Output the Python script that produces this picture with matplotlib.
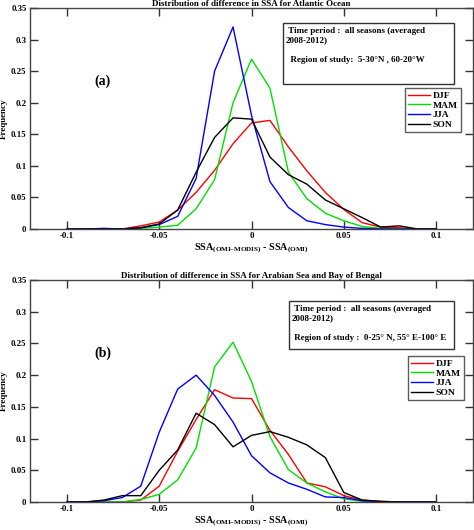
import matplotlib
matplotlib.use("Agg")
import matplotlib.pyplot as plt

plt.rcParams['font.family'] = ['Liberation Serif', 'DejaVu Serif']
plt.rcParams['font.weight'] = 'bold'
plt.rcParams['mathtext.fontset'] = 'custom'
plt.rcParams['mathtext.rm'] = 'Liberation Serif:bold'
plt.rcParams['mathtext.bf'] = 'Liberation Serif:bold'
plt.rcParams['mathtext.it'] = 'Liberation Serif:bold'

x = [-0.10, -0.09, -0.08, -0.07, -0.06, -0.05, -0.04, -0.03, -0.02, -0.01, 0.00,
     0.01, 0.02, 0.03, 0.04, 0.05, 0.06, 0.07, 0.08, 0.09, 0.10]

seasons = ['DJF', 'MAM', 'JJA', 'SON']
colors = ['#ff0000', '#00e000', '#0000ff', '#000000']

# Panel (a) Atlantic Ocean
a_djf = [0, 0, 0, 0, 0.005, 0.011, 0.030, 0.058, 0.093, 0.135, 0.168,
         0.172, 0.130, 0.092, 0.058, 0.031, 0.010, 0.003, 0.002, 0, 0]
a_mam = [0, 0, 0, 0, 0.001, 0.003, 0.006, 0.032, 0.078, 0.200, 0.269,
         0.223, 0.090, 0.048, 0.025, 0.013, 0.004, 0.001, 0, 0, 0]
a_jja = [0, 0, 0.001, 0, 0.002, 0.007, 0.020, 0.080, 0.250, 0.320, 0.180,
         0.075, 0.034, 0.013, 0.007, 0.003, 0.001, 0, 0, 0, 0]
a_son = [0, 0, 0, 0, 0.002, 0.008, 0.030, 0.090, 0.145, 0.176, 0.174,
         0.114, 0.086, 0.071, 0.046, 0.032, 0.018, 0.003, 0.005, 0, 0]

# Panel (b) Arabian Sea and Bay of Bengal
b_djf = [0, 0, 0, 0, 0.003, 0.025, 0.080, 0.130, 0.177, 0.164, 0.163,
         0.113, 0.075, 0.030, 0.024, 0.010, 0.003, 0.001, 0, 0, 0]
b_mam = [0, 0, 0, 0, 0.004, 0.012, 0.035, 0.085, 0.213, 0.252, 0.190,
         0.103, 0.051, 0.030, 0.016, 0.005, 0.001, 0, 0, 0, 0]
b_jja = [0, 0, 0.002, 0.007, 0.025, 0.110, 0.178, 0.200, 0.168, 0.126, 0.073,
         0.046, 0.030, 0.020, 0.008, 0.007, 0.002, 0, 0, 0, 0]
b_son = [0, 0, 0.003, 0.010, 0.010, 0.050, 0.082, 0.140, 0.122, 0.087, 0.105,
         0.111, 0.102, 0.090, 0.070, 0.015, 0.003, 0.001, 0, 0, 0]

xticks = [-0.1, -0.05, 0, 0.05, 0.1]
xticklabels = ['-0.1', '-0.05', '0', '0.05', '0.1']
yticks = [0, 0.05, 0.1, 0.15, 0.2, 0.25, 0.3, 0.35]
yticklabels = ['0', '0.05', '0.1', '0.15', '0.2', '0.25', '0.3', '0.35']

titles = ['Distribution of difference in SSA for Atlantic Ocean',
          'Distribution of difference in SSA for Arabian Sea and Bay of Bengal']
panel_labels = ['(a)', '(b)']
box_texts = [' Time period :  all seasons (averaged\n2008-2012)\n\n  Region of study:  5-30\u00b0N , 60-20\u00b0W',
             ' Time period :  all seasons (averaged\n2008-2012)\n\n Region of study :  0-25\u00b0 N, 55\u00b0 E-100\u00b0 E']
xlabel_text = 'SSA$_{\\text{(OMI\u2013MODIS)}}$ - SSA$_{\\text{(OMI)}}$'

W, H = 474, 530
fig = plt.figure(figsize=(W / 100, H / 100), dpi=100)

axes_px = [(30, 8, 443, 221), (30, 280, 443, 222)]
data = [(a_djf, a_mam, a_jja, a_son), (b_djf, b_mam, b_jja, b_son)]
box_px = [(283, 23, 171, 61), (289, 301, 165, 48)]
leg_px = [(405, 88), (408, 356)]

for i in range(2):
    l, t, w, h = axes_px[i]
    ax = fig.add_axes([l / W, 1 - (t + h) / H, w / W, h / H])
    for s, c, yv in zip(seasons, colors, data[i]):
        ax.plot(x, yv, color=c, lw=1.0, label=s)
    ax.set_xlim(-0.12, 0.12)
    ax.set_ylim(0, 0.35)
    ax.set_xticks(xticks)
    ax.set_xticklabels(xticklabels)
    ax.set_yticks(yticks)
    ax.set_yticklabels(yticklabels)
    ax.tick_params(direction='in', length=6, width=1, top=True, right=True,
                   labelsize=6.3, pad=2.5, color='#333333')
    for sp in ax.spines.values():
        sp.set_color('#444444')
        sp.set_linewidth(1)
    ax.set_title(titles[i], fontsize=6.5, fontweight='bold', pad=1.5)
    ax.set_ylabel('Frequency', fontsize=6.5, fontweight='bold', labelpad=2)
    ax.set_xlabel(xlabel_text, fontsize=7.3, fontweight='bold', labelpad=1)
    ax.text(0.145, 0.67, panel_labels[i], transform=ax.transAxes, fontsize=10,
            fontweight='bold', ha='left', va='center')
    # annotation box
    bl, bt, bw, bh = box_px[i]
    bax_coords = ((bl - l) / w, 1 - (bt + bh - t) / h, bw / w, bh / h)
    rect = plt.Rectangle(bax_coords[:2], bax_coords[2], bax_coords[3], transform=ax.transAxes,
                         fill=True, facecolor='white', edgecolor='#333333', lw=1.0, zorder=5)
    ax.add_patch(rect)
    ax.text((bl - l + 3) / w, 1 - (bt - t + 4) / h, box_texts[i], transform=ax.transAxes,
            fontsize=6.5, fontweight='bold', ha='left', va='top', zorder=6, linespacing=1.25)
    # legend
    lx, ly = leg_px[i]
    leg = ax.legend(loc='upper left', bbox_to_anchor=((lx - l) / w, 1 - (ly - t) / h),
                    frameon=True, fancybox=False, borderpad=0.35,
                    handlelength=2.3, handletextpad=0.3, labelspacing=0.12,
                    borderaxespad=0, prop={'weight': 'bold', 'size': 6.8})
    leg.get_frame().set_edgecolor('#333333')
    leg.get_frame().set_linewidth(1.0)

fig.savefig('out.png', dpi=100)
